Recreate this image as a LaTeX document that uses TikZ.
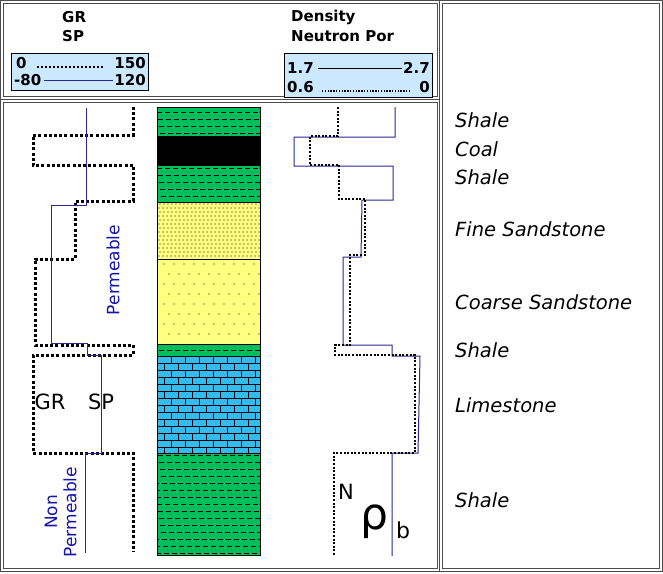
\documentclass[tikz,border=0pt]{standalone}
\usepackage{fontspec}
\setmainfont{DejaVu Sans}
\begin{document}
\begin{tikzpicture}[x=1pt,y=-1pt,
  frame/.style={draw=black!70,double=white,double distance=1.5pt,line width=0.8pt},
  grc/.style={line width=3pt,dash pattern=on 3pt off 2.2pt,black},
  spc/.style={line width=1pt,draw={rgb,255:red,40;green,40;blue,150}},
  neu/.style={line width=2.2pt,dash pattern=on 2pt off 1.6pt,black},
  scalebox/.style={draw=black,fill={rgb,255:red,204;green,232;blue,255},line width=0.8pt},
  hdr/.style={font=\bfseries\fontsize{15}{17}\selectfont,anchor=west,inner sep=0pt},
  lith/.style={font=\itshape\fontsize{19.5}{21}\selectfont,anchor=west,inner sep=0pt},
  blab/.style={font=\fontsize{17}{19}\selectfont,text={rgb,255:red,20;green,20;blue,170},inner sep=0pt,rotate=90}]
\definecolor{shalegreen}{RGB}{0,190,90}
\definecolor{sandy}{RGB}{255,255,128}
\definecolor{limeblue}{RGB}{51,187,238}
\useasboundingbox (0,0) rectangle (663,573);
\fill[white] (0,0) rectangle (663,573);
% frames
\draw[frame] (2,2) rectangle (439,98);
\draw[frame] (2,101) rectangle (439,570);
\draw[frame] (441,2) rectangle (661,570);
% header
\node[hdr] (gr) at (62,17) {GR};
\node[hdr] (sp) at (62,36) {SP};
\node[hdr] (den) at (291,17) {Density};
\node[hdr] (np) at (291,36) {Neutron Por};
\draw[scalebox] (11,53) rectangle (148,90);
\node[hdr] (s0) at (16,63) {0};
\node[hdr,anchor=east] (s150) at (146,63) {150};
\draw[line width=2pt,dash pattern=on 2pt off 2pt] (37,66.5) -- (103,66.5);
\node[hdr] (s80) at (14,80) {-80};
\node[hdr,anchor=east] (s120) at (146,80) {120};
\draw[spc] ([xshift=2]s80.east) -- ([xshift=-1]s120.west);
\draw[scalebox] (284,53) rectangle (432,97);
\node[hdr] (d17) at (287,68) {1.7};
\node[hdr,anchor=east] (d27) at (430,68) {2.7};
\draw[line width=0.6pt] ([xshift=4]d17.east) -- ([xshift=-1]d27.west);
\node[hdr] (n06) at (287,87) {0.6};
\node[hdr,anchor=east] (n0) at (430,87) {0};
\draw[line width=1.6pt,dash pattern=on 1.4pt off 1.4pt] (322,91) -- (410,91);
% lithology column
\def\L{157}\def\R{260}
\foreach \a/\b in {107/136,165/202,344/356,453/555}{
  \fill[shalegreen] (\L,\a) rectangle (\R,\b);
  \begin{scope}
  \clip (\L,\a) rectangle (\R,\b);
  \foreach \yy in {112,119,...,560}{
    \draw[line width=0.4pt,dash pattern=on 5pt off 3pt,dash phase=\yy] (\L,\yy) -- (\R,\yy);}
  \end{scope}}
\fill[black] (\L,136) rectangle (\R,165);
\fill[sandy] (\L,202) rectangle (\R,344);
\foreach \yy in {204,208,...,257}{
  \foreach \xx in {159,163,...,259}{
    \fill ({\xx+mod(\yy,8)/4},\yy) circle (0.6pt);}}
\foreach \yy in {264,274,...,340}{
  \foreach \xx in {162,172,...,258}{
    \fill ({\xx+mod(\yy,20)/2},\yy) circle (0.65pt);}}
\fill[limeblue] (\L,356) rectangle (\R,453);
\begin{scope}
\clip (\L,356) rectangle (\R,453);
\foreach \yy [count=\i] in {356,363,...,453}{
  \draw[line width=0.4pt] (\L,\yy) -- (\R,\yy);
  \pgfmathsetmacro\off{mod(\i,2)*7}
  \foreach \xx in {150,164,...,270}{
    \draw[line width=0.4pt] ({\xx+\off},\yy) -- ({\xx+\off},\yy+7);}}
\end{scope}
\foreach \yy in {136,165,202,259,344,356,453}{\draw[line width=0.6pt] (\L,\yy) -- (\R,\yy);}
\draw[line width=0.8pt] (\L,107) rectangle (\R,555);
% GR curve
\draw[grc] (133,107) |- (33,135) |- (133,165) |- (75,201) |- (35,259) |- (133,345) |- (33,355) |- (133,453) -- (133,552);
% SP curve
\draw[spc] (86,108) |- (51,205) |- (87,343) |- (101,355) |- (85,453) -- (85,553);
% density / neutron
\draw[spc] (395,107) |- (294,137) |- (393,166) |- (362,200) -- (361,257) -| (343,345) -| (392,356) -| (420,356) -- (418,453) -| (392,556);
\draw[neu] (338,107) |- (310,136) |- (339,165) |- (365,199) |- (350,255) |- (335,345) |- (415,355) |- (334,453) -- (334,555);
% labels
\node[blab] (perm) at (113,270) {Permeable};
\node[blab] (non) at (51,512) {Non};
\node[blab] (perm2) at (70,512) {Permeable};
\node[font=\fontsize{21}{23}\selectfont,inner sep=0pt] (lgr) at (50,402) {GR};
\node[font=\fontsize{21}{23}\selectfont,inner sep=0pt] (lsp) at (101,402) {SP};
\node[font=\fontsize{21}{23}\selectfont,inner sep=0pt] (ln) at (346,492) {N};
\node[font=\fontsize{44}{46}\selectfont,inner sep=0pt] (rho) at (374,522) {ρ};
\node[font=\fontsize{22}{24}\selectfont,inner sep=0pt] (lb) at (403,530) {b};
% lithology names
\node[lith] (t1) at (455,120) {Shale};
\node[lith] (t2) at (455,149) {Coal};
\node[lith] (t3) at (455,177) {Shale};
\node[lith] (t4) at (455,229) {Fine Sandstone};
\node[lith] (t5) at (455,302) {Coarse Sandstone};
\node[lith] (t6) at (455,350) {Shale};
\node[lith] (t7) at (455,405) {Limestone};
\node[lith] (t8) at (455,500) {Shale};
\end{tikzpicture}
\end{document}
